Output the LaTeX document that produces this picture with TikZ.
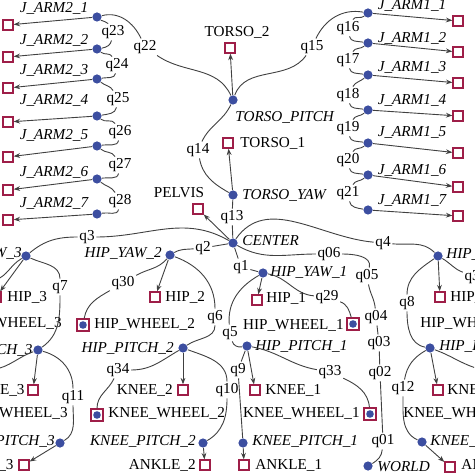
\documentclass[tikz,border=0pt]{standalone}
\usepackage{fontspec}
\setmainfont{Liberation Serif}
\usetikzlibrary{arrows.meta}
\definecolor{jointblue}{RGB}{60,78,160}
\definecolor{bodyred}{RGB}{158,30,72}

\begin{document}
\begin{tikzpicture}[
       x=0.5pt, y=0.5pt,
       font=\fontsize{7.6}{9}\selectfont,
       joint/.style={
         circle,
         fill=jointblue,
         inner sep=0pt,
         minimum size=4.6pt
       },
       body/.style={
         rectangle,
         draw=bodyred,
         fill=white,
         line width=0.7pt,
         inner sep=0pt,
         minimum size=5pt
       },
       wheel/.style={
         body,
         minimum size=6pt,
         path picture={\fill[jointblue] (path picture bounding box.center) circle (1.9pt);}
       },
       jname/.style={font=\fontsize{7.6}{9}\selectfont\itshape, inner sep=0pt},
       bname/.style={inner sep=0pt},
       qlab/.style={inner sep=0.7pt},
       link/.style={draw=black!75, line width=0.45pt},
       arr/.style={link, -{Stealth[length=3.2pt,width=2.4pt]}}
     ]
       \useasboundingbox (0,0) rectangle (474,-474);
       \clip (0,0) rectangle (474,-474);

       % left arm
       \node (j21) at (97,-17) [joint]{};
       \node (j22) at (97,-49) [joint]{};
       \node (j23) at (97,-79) [joint]{};
       \node (j24) at (97,-116) [joint]{};
       \node (j25) at (97,-146) [joint]{};
       \node (j26) at (97,-179) [joint]{};
       \node (j27) at (97,-214) [joint]{};
       \node (b21) at (8,-25) [body]{};
       \node (b22) at (8,-57) [body]{};
       \node (b23) at (8,-88) [body]{};
       \node (b24) at (8,-122) [body]{};
       \node (b25) at (8,-157) [body]{};
       \node (b26) at (8,-190) [body]{};
       \node (b27) at (8,-220) [body]{};
       \node (t21) at (54,-8) [jname]{J\_ARM2\_1};
       \node (t22) at (54,-40) [jname]{J\_ARM2\_2};
       \node (t23) at (54,-70) [jname]{J\_ARM2\_3};
       \node (t24) at (54,-100) [jname]{J\_ARM2\_4};
       \node (t25) at (54,-135) [jname]{J\_ARM2\_5};
       \node (t26) at (54,-172) [jname]{J\_ARM2\_6};
       \node (t27) at (54,-203) [jname]{J\_ARM2\_7};

       % right arm
       \node (j11) at (368,-13) [joint]{};
       \node (j12) at (368,-43) [joint]{};
       \node (j13) at (368,-75) [joint]{};
       \node (j14) at (368,-110) [joint]{};
       \node (j15) at (368,-143) [joint]{};
       \node (j16) at (368,-175) [joint]{};
       \node (j17) at (368,-210) [joint]{};
       \node (b11) at (458,-21) [body]{};
       \node (b12) at (458,-52) [body]{};
       \node (b13) at (458,-83) [body]{};
       \node (b14) at (458,-116) [body]{};
       \node (b15) at (458,-153) [body]{};
       \node (b16) at (458,-187) [body]{};
       \node (b17) at (458,-216) [body]{};
       \node (t11) at (412,-5) [jname]{J\_ARM1\_1};
       \node (t12) at (412,-38) [jname]{J\_ARM1\_2};
       \node (t13) at (412,-67) [jname]{J\_ARM1\_3};
       \node (t14) at (412,-100) [jname]{J\_ARM1\_4};
       \node (t15) at (412,-132) [jname]{J\_ARM1\_5};
       \node (t16) at (412,-170) [jname]{J\_ARM1\_6};
       \node (t17) at (412,-200) [jname]{J\_ARM1\_7};

       % torso
       \node (tpitch) at (233,-100) [joint]{};
       \node (tyaw) at (233,-195) [joint]{};
       \node (center) at (233,-243) [joint]{};
       \node (torso2) at (230,-48) [body]{};
       \node (torso1) at (228,-143) [body]{};
       \node (pelvis) at (198,-209) [body]{};
       \node (ttorso2) at (237,-32) [bname]{TORSO\_2};
       \node (ttorso1) at (240,-143) [bname,anchor=west]{TORSO\_1};
       \node (tpelvis) at (179,-193) [bname]{PELVIS};
       \node (ttpitch) at (235,-117) [jname,anchor=west]{TORSO\_PITCH};
       \node (ttyaw) at (242,-195) [jname,anchor=west]{TORSO\_YAW};
       \node (tcenter) at (242,-241) [jname,anchor=west]{CENTER};

       % legs
       \node (hy3) at (26,-256) [joint]{};
       \node (hp3) at (38,-350) [joint]{};
       \node (kp3) at (60,-443) [joint]{};
       \node (hy2) at (170,-255) [joint]{};
       \node (hp2) at (183,-348) [joint]{};
       \node (kp2) at (203,-443) [joint]{};
       \node (hy1) at (263,-273) [joint]{};
       \node (hp1) at (247,-346) [joint]{};
       \node (kp1) at (243,-443) [joint]{};
       \node (hy4) at (438,-256) [joint]{};
       \node (hp4) at (430,-348) [joint]{};
       \node (kp4) at (422,-442) [joint]{};
       \node (world) at (368,-466) [joint]{};

       \node (hip3) at (-4,-297) [body]{};
       \node (hw3) at (-50,-324) [wheel]{};
       \node (knee3) at (33,-390) [body]{};
       \node (kw3) at (-42,-414) [wheel]{};
       \node (ankle3) at (24,-465) [body]{};
       \node (hip2) at (155,-297) [body]{};
       \node (hw2) at (83,-325) [wheel]{};
       \node (knee2) at (183,-390) [body]{};
       \node (kw2) at (97,-415) [wheel]{};
       \node (ankle2) at (205,-465) [body]{};
       \node (hip1) at (257,-300) [body]{};
       \node (hw1) at (353,-324) [wheel]{};
       \node (knee1) at (255,-390) [body]{};
       \node (kw1) at (370,-414) [wheel]{};
       \node (ankle1) at (244,-465) [body]{};
       \node (hip4) at (440,-297) [body]{};
       \node (hw4) at (530,-324) [wheel]{};
       \node (knee4) at (438,-390) [body]{};
       \node (kw4) at (515,-414) [wheel]{};
       \node (ankle4) at (450,-467) [body]{};

       \node (thy3) at (22,-253) [jname,anchor=east]{HIP\_YAW\_3};
       \node (thip3) at (7,-297) [bname,anchor=west]{HIP\_3};
       \node (thw3) at (62,-323) [bname,anchor=east]{HIP\_WHEEL\_3};
       \node (thp3) at (33,-350) [jname,anchor=east]{HIP\_PITCH\_3};
       \node (tknee3) at (25,-390) [bname,anchor=east]{KNEE\_3};
       \node (tkw3) at (68,-413) [bname,anchor=east]{KNEE\_WHEEL\_3};
       \node (tkp3) at (55,-441) [jname,anchor=east]{KNEE\_PITCH\_3};
       \node (tankle3) at (14,-465) [bname,anchor=east]{ANKLE\_3};
       \node (thy2) at (162,-253) [jname,anchor=east]{HIP\_YAW\_2};
       \node (thip2) at (165,-297) [bname,anchor=west]{HIP\_2};
       \node (thw2) at (94,-324) [bname,anchor=west]{HIP\_WHEEL\_2};
       \node (thp2) at (174,-348) [jname,anchor=east]{HIP\_PITCH\_2};
       \node (tknee2) at (173,-390) [bname,anchor=east]{KNEE\_2};
       \node (tkw2) at (108,-413) [bname,anchor=west]{KNEE\_WHEEL\_2};
       \node (tkp2) at (196,-441) [jname,anchor=east]{KNEE\_PITCH\_2};
       \node (tankle2) at (196,-465) [bname,anchor=east]{ANKLE\_2};
       \node (thy1) at (270,-272) [jname,anchor=west]{HIP\_YAW\_1};
       \node (thip1) at (266,-298) [bname,anchor=west]{HIP\_1};
       \node (thw1) at (344,-325) [bname,anchor=east]{HIP\_WHEEL\_1};
       \node (thp1) at (255,-346) [jname,anchor=west]{HIP\_PITCH\_1};
       \node (tknee1) at (265,-390) [bname,anchor=west]{KNEE\_1};
       \node (tkw1) at (360,-413) [bname,anchor=east]{KNEE\_WHEEL\_1};
       \node (tkp1) at (252,-441) [jname,anchor=west]{KNEE\_PITCH\_1};
       \node (tankle1) at (255,-465) [bname,anchor=west]{ANKLE\_1};
       \node (thy4) at (446,-254) [jname,anchor=west]{HIP\_YAW\_4};
       \node (thip4) at (450,-297) [bname,anchor=west]{HIP\_4};
       \node (thw4) at (420,-323) [bname,anchor=west]{HIP\_WHEEL\_4};
       \node (thp4) at (439,-346) [jname,anchor=west]{HIP\_PITCH\_4};
       \node (tknee4) at (447,-390) [bname,anchor=west]{KNEE\_4};
       \node (tkw4) at (403,-413) [bname,anchor=west]{KNEE\_WHEEL\_4};
       \node (tkp4) at (430,-441) [jname,anchor=west]{KNEE\_PITCH\_4};
       \node (tankle4) at (461,-465) [bname,anchor=west]{ANKLE\_4};
       \node (tworld) at (377,-467) [jname,anchor=west]{WORLD};

       % joint variables
       \node (q23) at (113,-32) [qlab]{q23};
       \node (q24) at (117,-65) [qlab]{q24};
       \node (q25) at (118,-99) [qlab]{q25};
       \node (q26) at (120,-132) [qlab]{q26};
       \node (q27) at (120,-165) [qlab]{q27};
       \node (q28) at (120,-201) [qlab]{q28};
       \node (q22) at (145,-47) [qlab]{q22};
       \node (q16) at (348,-28) [qlab]{q16};
       \node (q17) at (348,-60) [qlab]{q17};
       \node (q18) at (348,-95) [qlab]{q18};
       \node (q19) at (348,-128) [qlab]{q19};
       \node (q20) at (348,-160) [qlab]{q20};
       \node (q21) at (348,-193) [qlab]{q21};
       \node (q15) at (312,-47) [qlab]{q15};
       \node (q14) at (198,-150) [qlab]{q14};
       \node (q13) at (232,-217) [qlab]{q13};
       \node (q1) at (241,-267) [qlab]{q1};
       \node (q2) at (203,-248) [qlab]{q2};
       \node (q3) at (87,-237) [qlab]{q3};
       \node (q4) at (383,-243) [qlab]{q4};
       \node (q06) at (329,-254) [qlab]{q06};
       \node (q05) at (367,-276) [qlab]{q05};
       \node (q04) at (376,-317) [qlab]{q04};
       \node (q03) at (379,-343) [qlab]{q03};
       \node (q02) at (380,-373) [qlab]{q02};
       \node (q01) at (383,-441) [qlab]{q01};
       \node (q5) at (230,-333) [qlab]{q5};
       \node (q6) at (215,-317) [qlab]{q6};
       \node (q7) at (60,-287) [qlab]{q7};
       \node (q8) at (407,-303) [qlab]{q8};
       \node (q9) at (238,-370) [qlab]{q9};
       \node (q10) at (227,-390) [qlab]{q10};
       \node (q11) at (73,-397) [qlab]{q11};
       \node (q12) at (403,-388) [qlab]{q12};
       \node (q29) at (327,-297) [qlab]{q29};
       \node (q30) at (123,-283) [qlab]{q30};
       \node (q31) at (-18,-285) [qlab]{q31};
       \node (q32) at (476,-277) [qlab]{q32};
       \node (q33) at (330,-372) [qlab]{q33};
       \node (q34) at (118,-370) [qlab]{q34};
       \node (q35) at (-20,-372) [qlab]{q35};
       \node (q36) at (494,-373) [qlab]{q36};

       % arm links
       \draw[link] (j21) to[out=-40,in=120] (q23) to[out=-100,in=10] (j22);
       \draw[link] (j22) to[out=-40,in=120] (q24) to[out=-100,in=10] (j23);
       \draw[link] (j23) to[out=-40,in=120] (q25) to[out=-100,in=10] (j24);
       \draw[link] (j24) to[out=-40,in=120] (q26) to[out=-100,in=10] (j25);
       \draw[link] (j25) to[out=-40,in=120] (q27) to[out=-100,in=10] (j26);
       \draw[link] (j26) to[out=-40,in=120] (q28) to[out=-100,in=10] (j27);
       \draw[link] (j11) to[out=-140,in=60] (q16) to[out=-80,in=170] (j12);
       \draw[link] (j12) to[out=-140,in=60] (q17) to[out=-80,in=170] (j13);
       \draw[link] (j13) to[out=-140,in=60] (q18) to[out=-80,in=170] (j14);
       \draw[link] (j14) to[out=-140,in=60] (q19) to[out=-80,in=170] (j15);
       \draw[link] (j15) to[out=-140,in=60] (q20) to[out=-80,in=170] (j16);
       \draw[link] (j16) to[out=-140,in=60] (q21) to[out=-80,in=170] (j17);
       \draw[link] (j21) to[out=15,in=115] (q22) to[out=-35,in=115] (tpitch);
       \draw[link] (j11) to[out=170,in=65] (q15) to[out=-125,in=70] (tpitch);

       \draw[arr] (j21) -- (b21);
       \draw[arr] (j22) -- (b22);
       \draw[arr] (j23) -- (b23);
       \draw[arr] (j24) -- (b24);
       \draw[arr] (j25) -- (b25);
       \draw[arr] (j26) -- (b26);
       \draw[arr] (j27) -- (b27);
       \draw[arr] (j11) -- (b11);
       \draw[arr] (j12) -- (b12);
       \draw[arr] (j13) -- (b13);
       \draw[arr] (j14) -- (b14);
       \draw[arr] (j15) -- (b15);
       \draw[arr] (j16) -- (b16);
       \draw[arr] (j17) -- (b17);

       % torso links
       \draw[arr] (tpitch) -- (torso2);
       \draw[arr] (tyaw) -- (torso1);
       \draw[arr] (center) -- (pelvis);
       \draw[link] (tpitch) to[out=-115,in=65] (q14) to[out=-80,in=150] (tyaw);
       \draw[link] (center) -- (q13) -- (tyaw);

       % center to legs and world
       \draw[link] (center) -- (q1) -- (hy1);
       \draw[link] (center) -- (q2) to[out=185,in=30] (hy2);
       \draw[link] (center) to[out=150,in=0] (q3) to[out=180,in=40] (hy3);
       \draw[link] (center) to[out=55,in=175] (q4) to[out=-5,in=135] (hy4);
       \draw[link] (center) to[out=-30,in=180] (q06) to[out=0,in=75] (q05)
         to[out=-80,in=95] (q04) -- (q03) -- (q02) -- (q01) to[out=-95,in=30] (world);

       % leg 3
       \draw[arr] (hy3) -- (hip3);
       \draw[link] (hy3) to[out=-150,in=20] (q31) to[out=-120,in=90] (hw3);
       \draw[link] (hy3) to[out=-25,in=90] (q7) to[out=-90,in=35] (hp3);
       \draw[arr] (hp3) -- (knee3);
       \draw[link] (hp3) to[out=-160,in=10] (q35) to[out=-110,in=90] (kw3);
       \draw[link] (hp3) to[out=-15,in=90] (q11) to[out=-90,in=30] (kp3);
       \draw[arr] (kp3) -- (ankle3);

       % leg 2
       \draw[arr] (hy2) -- (hip2);
       \draw[link] (hy2) to[out=-130,in=30] (q30) to[out=-150,in=80] (hw2);
       \draw[link] (hy2) to[out=-20,in=90] (q6) to[out=-90,in=35] (hp2);
       \draw[arr] (hp2) -- (knee2);
       \draw[link] (hp2) to[out=-150,in=0] (q34) to[out=-115,in=90] (kw2);
       \draw[link] (hp2) to[out=-20,in=90] (q10) to[out=-90,in=30] (kp2);
       \draw[arr] (kp2) -- (ankle2);

       % leg 1
       \draw[arr] (hy1) -- (hip1);
       \draw[link] (hy1) to[out=-10,in=175] (q29) to[out=-20,in=105] (hw1);
       \draw[link] (hy1) to[out=-150,in=95] (q5) to[out=-75,in=190] (hp1);
       \draw[arr] (hp1) -- (knee1);
       \draw[link] (hp1) to[out=-10,in=170] (q33) to[out=-25,in=95] (kw1);
       \draw[link] (hp1) -- (q9) -- (kp1);
       \draw[arr] (kp1) -- (ankle1);

       % leg 4
       \draw[arr] (hy4) -- (hip4);
       \draw[link] (hy4) to[out=-30,in=160] (q32) to[out=-20,in=100] (hw4);
       \draw[link] (hy4) to[out=-145,in=90] (q8) to[out=-90,in=170] (hp4);
       \draw[arr] (hp4) -- (knee4);
       \draw[link] (hp4) to[out=-20,in=165] (q36) to[out=-30,in=100] (kw4);
       \draw[link] (hp4) to[out=-150,in=80] (q12) to[out=-90,in=155] (kp4);
       \draw[arr] (kp4) -- (ankle4);

\end{tikzpicture}
\end{document}
